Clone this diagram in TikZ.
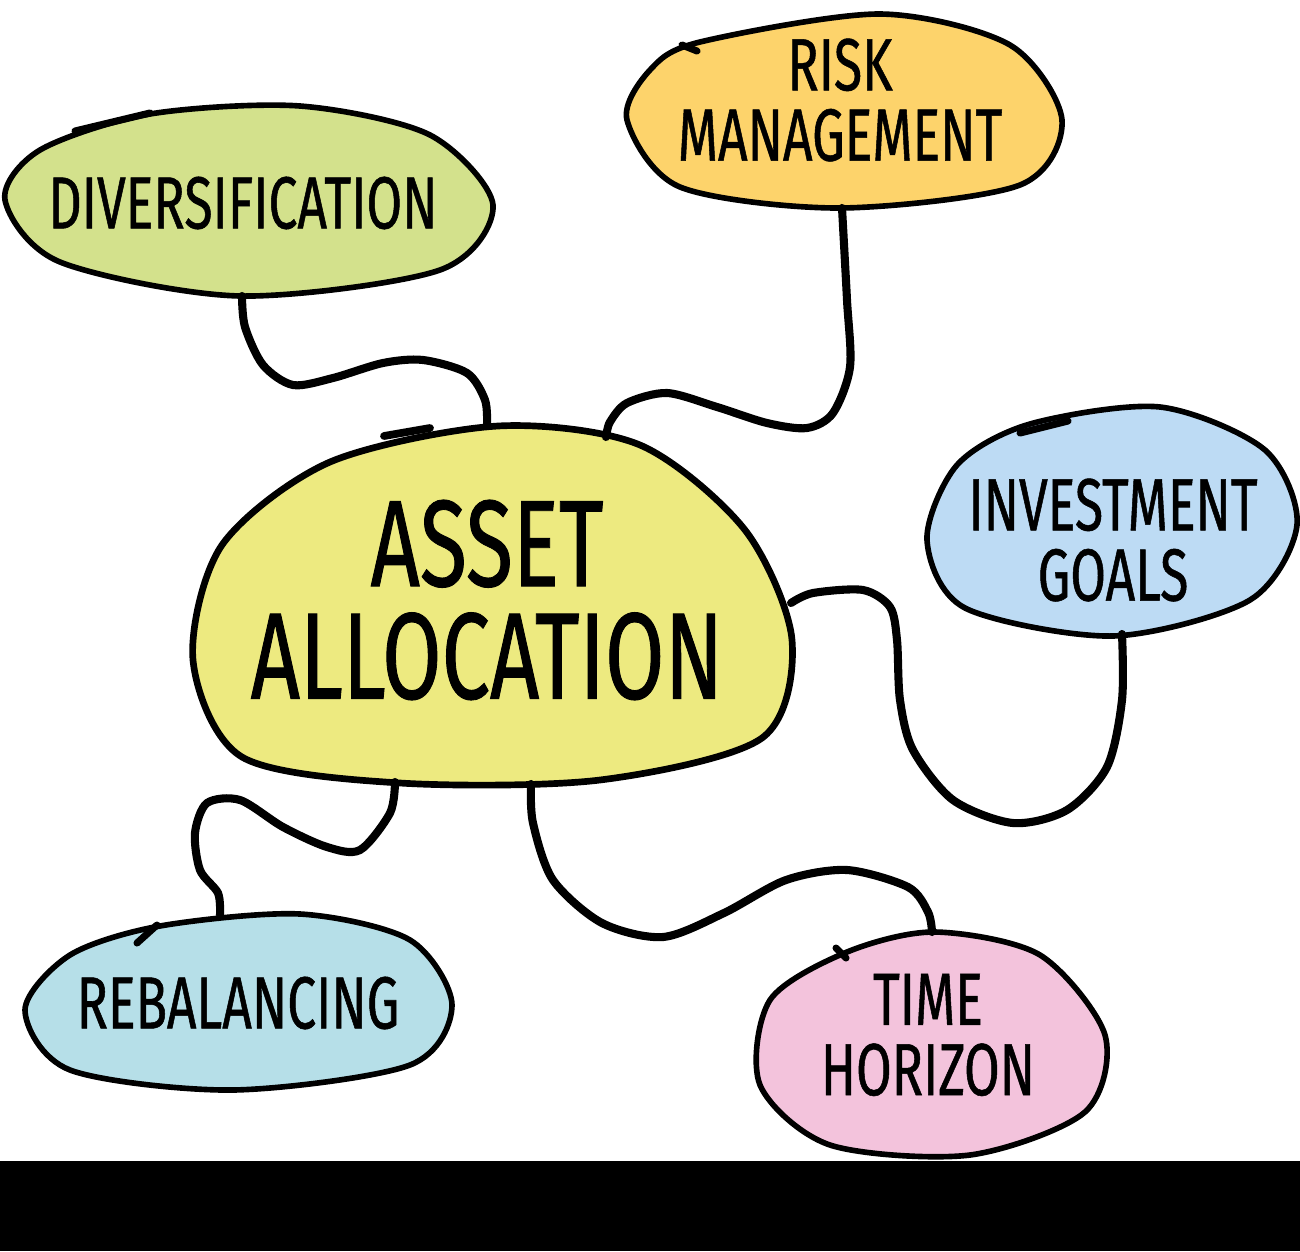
\documentclass[tikz,border=0pt]{standalone}
\usepackage{fontspec}
\newfontfamily\handfont[FakeStretch=0.7,FakeBold=0.7]{Fira Sans}
\usepackage{tikz}

\definecolor{assetfill}{HTML}{EDEA80}
\definecolor{divfill}{HTML}{D3E18C}
\definecolor{riskfill}{HTML}{FDD36B}
\definecolor{investfill}{HTML}{BDDBF4}
\definecolor{rebfill}{HTML}{B6DFE8}
\definecolor{timefill}{HTML}{F3C3DC}

\tikzset{
  blob/.style={draw=black,line width=1.6pt,line join=round},
  link/.style={line width=2.3pt,line cap=round},
  tick/.style={line width=2pt,line cap=round},
  txt/.style={font=\handfont\fontsize{21}{20}\selectfont,align=center,inner sep=0pt},
  bigtxt/.style={font=\handfont\fontsize{35}{32}\selectfont,align=center,inner sep=0pt}
}

\begin{document}
\begin{tikzpicture}[x=0.01cm,y=-0.01cm]
\useasboundingbox (0,0) rectangle (1300,1251);
\fill[white] (0,0) rectangle (1300,1161);
\fill[black] (0,1161) rectangle (1300,1251);

% bubbles
\filldraw[blob,fill=assetfill,line width=1.9pt] plot[smooth cycle] coordinates {(498,426) (640,445) (745,530) (792,640) (762,738) (600,780) (400,783) (242,757) (193,660) (222,545) (330,462)};
\draw[tick,line width=2.2pt] (384,436) -- (430,428);
\filldraw[blob,fill=divfill] plot[smooth cycle] coordinates {(150,114) (300,106) (430,135) (493,205) (440,270) (240,296) (60,262) (5,200) (40,150)};
\draw[tick] (75,131) -- (150,113);
\filldraw[blob,fill=riskfill] plot[smooth cycle] coordinates {(700,42) (880,14) (1010,45) (1062,120) (1020,185) (840,208) (680,187) (627,120) (650,70)};
\draw[tick] (682,45) -- (697,51);
\filldraw[blob,fill=investfill] plot[smooth cycle] coordinates {(1030,424) (1160,407) (1265,450) (1297,525) (1250,600) (1113,636) (965,608) (927,540) (957,465)};
\draw[tick] (1020,433) -- (1068,421);
\filldraw[blob,fill=rebfill] plot[smooth cycle] coordinates {(160,926) (300,914) (410,940) (452,1005) (410,1065) (233,1090) (70,1070) (25,1010) (70,955)};
\draw[tick] (137,943) -- (157,925);
\filldraw[blob,fill=timefill] plot[smooth cycle] coordinates {(847,952) (935,932) (1040,955) (1105,1035) (1085,1112) (970,1155) (830,1145) (760,1085) (770,1000)};
\draw[tick] (836,948) -- (846,958);

% texts
\node[bigtxt] (asset) at (487,600) {ASSET\\ALLOCATION};
\node[txt] (div) at (243,203) {DIVERSIFICATION};
\node[txt] (risk) at (840,100) {RISK\\MANAGEMENT};
\node[txt] (invest) at (1113,540) {INVESTMENT\\GOALS};
\node[txt] (reb) at (238,1003) {REBALANCING};
\node[txt] (time) at (928,1035) {TIME\\HORIZON};

% ends of the links on the bubbles
\coordinate (asset-nw) at (487,426);
\coordinate (asset-ne) at (606,437);
\coordinate (asset-e) at (791,603);
\coordinate (asset-sw) at (395,782);
\coordinate (asset-s) at (531,784);
\coordinate (div-foot) at (242,296);
\coordinate (risk-foot) at (842,208);
\coordinate (invest-foot) at (1122,634);
\coordinate (reb-top) at (220,915);
\coordinate (time-top) at (932,932);

% links
\draw[link] plot[smooth] coordinates {(div-foot) (245,327) (263,365) (293,385) (333,378) (383,363) (423,360) (467,373) (485,400) (asset-nw)};
\draw[link] plot[smooth] coordinates {(risk-foot) (847,300) (850,367) (833,413) (807,428) (767,423) (717,407) (667,393) (627,403) (610,422) (asset-ne)};
\draw[link] plot[smooth] coordinates {(asset-e) (813,593) (863,590) (890,607) (897,640) (900,700) (913,750) (953,800) (1013,823) (1067,810) (1107,767) (1122,700) (invest-foot)};
\draw[link] plot[smooth] coordinates {(asset-sw) (390,813) (360,850) (327,847) (283,827) (240,800) (207,803) (195,833) (200,870) (218,893) (reb-top)};
\draw[link] plot[smooth] coordinates {(asset-s) (533,823) (553,880) (602,923) (663,937) (724,913) (786,880) (847,870) (908,887) (928,912) (time-top)};
\end{tikzpicture}
\end{document}
